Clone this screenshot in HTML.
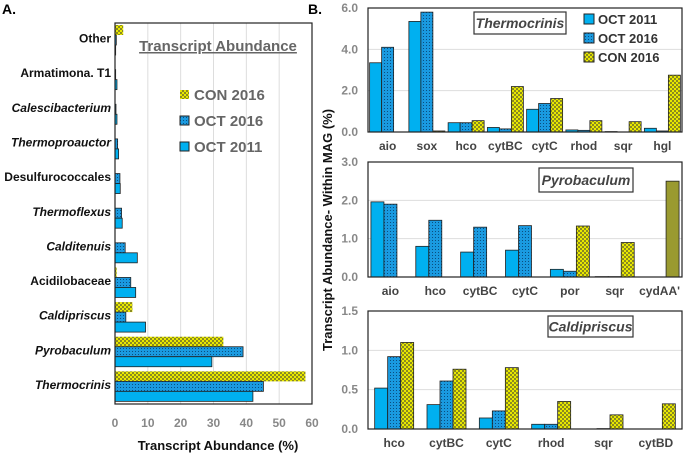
<!DOCTYPE html>
<html><head><meta charset="utf-8"><style>
body{margin:0;background:#fff;}
svg text{font-family:"Liberation Sans",sans-serif;font-weight:bold;}
</style></head><body>
<svg id="c" width="685" height="453" viewBox="0 0 685 453" xmlns="http://www.w3.org/2000/svg">
<defs>
<pattern id="pDot" width="3" height="3" patternUnits="userSpaceOnUse"><rect width="3" height="3" fill="#1a9ae0"/><rect width="1" height="1" fill="#0a4f80"/></pattern>
<pattern id="pChk" width="4" height="4" patternUnits="userSpaceOnUse"><rect width="4" height="4" fill="#e8e800"/><rect width="2" height="2" fill="#8a8a20"/><rect x="2" y="2" width="2" height="2" fill="#8a8a20"/></pattern>
</defs>
<text x="2" y="14" font-size="14">A.</text>
<text x="308" y="14" font-size="14">B.</text>
<g id="gA"></g><g id="gB"></g>
<text transform="translate(332,230) rotate(-90)" text-anchor="middle" font-size="13" fill="#111">Transcript Abundance- Within MAG (%)</text>
</svg>
<script>
const NS="http://www.w3.org/2000/svg";
const fills=["#00b0f0","url(#pDot)","url(#pChk)"];
function el(p,t,a){const e=document.createElementNS(NS,t);for(const k in a)e.setAttribute(k,a[k]);p.appendChild(e);return e;}
// Panel A data
const catsA=["Other","Armatimona. T1","Calescibacterium","Thermoproauctor","Desulfurococcales","Thermoflexus","Calditenuis","Acidilobaceae","Caldipriscus","Pyrobaculum","Thermocrinis"];
const italA=[false,false,true,true,false,true,true,false,true,true,true];
const aCON=[2.5,0,0,0,0,0,0,0.5,5.3,33,58];
const aOCT16=[0.4,0.2,0.3,0.8,1.5,2.0,3.1,4.8,3.3,39,45.2];
const aOCT11=[0.2,0.6,0.6,1.1,1.6,2.2,6.8,6.3,9.3,29.5,42];
const ticksA=[0,10,20,30,40,50,60];
// Panel B data
const cats1=["aio","sox","hco","cytBC","cytC","rhod","sqr","hgl"];
const t1o11=[3.35,5.35,0.45,0.22,1.1,0.1,0.02,0.18];
const t1o16=[4.1,5.8,0.45,0.15,1.38,0.08,0,0.05];
const t1con=[0,0.05,0.55,2.2,1.62,0.55,0.5,2.75];
const ticks1=[0,2,4,6];
const cats2=["aio","hco","cytBC","cytC","por","sqr","cydAA'"];
const t2o11=[1.96,0.8,0.65,0.7,0.2,0.01,0];
const t2o16=[1.9,1.48,1.3,1.34,0.15,0.01,0];
const t2con=[0,0,0,0,1.33,0.9,2.5];
const ticks2=[0,1,2,3];
const cats3=["hco","cytBC","cytC","rhod","sqr","cytBD"];
const t3o11=[0.52,0.31,0.14,0.06,0,0];
const t3o16=[0.92,0.61,0.23,0.06,0.005,0];
const t3con=[1.1,0.76,0.78,0.35,0.18,0.32];
const ticks3=[0,0.5,1.0,1.5];

// Panel A
(function(){
 const g=document.getElementById('gA');
 const x0=115,x1=312,y0=23,y1=404,xmax=60;
 const X=v=>x0+v/xmax*(x1-x0);
 const band=(y1-y0)/catsA.length;
 ticksA.forEach(t=>{
  if(t>0){const l=el(g,'line',{x1:X(t),x2:X(t),y1:y0,y2:y1,stroke:'#ddd'});}
  const tx=el(g,'text',{x:X(t),y:427,'text-anchor':'middle','font-size':12,fill:'#888'});tx.textContent=t;
  
 });
 const series=[aCON,aOCT16,aOCT11];const fo=[2,1,0];
 catsA.forEach((c,i)=>{
  const top=y0+i*band+2;
  series.forEach((s,j)=>{
   if(s[i]<=0)return;
   const r=el(g,'rect',{x:x0,y:top+j*10,width:X(s[i])-x0,height:10,fill:fills[fo[j]],stroke:j==0?'none':'#222','stroke-width':0.8});
   
  });
  const tx=el(g,'text',{x:111,y:y0+i*band+band*0.45+4,'text-anchor':'end','font-size':12,fill:'#111','font-style':italA[i]?'italic':'normal'});tx.textContent=c;
  
 });
 const f=el(g,'rect',{x:x0,y:y0,width:x1-x0,height:y1-y0,fill:'none',stroke:'#222','stroke-width':1.2});
 
 const tt=el(g,'text',{x:218,y:51,'text-anchor':'middle','font-size':15,fill:'#666','text-decoration':'underline'});tt.textContent='Transcript Abundance';
 
 const leg=[['CON 2016',2],['OCT 2016',1],['OCT 2011',0]];
 leg.forEach((l,k)=>{
  const y=99+k*26;
  const r=el(g,'rect',{x:180,y:y-9,width:9,height:9,fill:fills[l[1]],stroke:l[1]==2?'none':'#222'});
  
  const t=el(g,'text',{x:194,y:y+1,'font-size':15,fill:'#666'});t.textContent=l[0];
  
 });
 const xt=el(g,'text',{x:218,y:450,'text-anchor':'middle','font-size':13,fill:'#111'});xt.textContent='Transcript Abundance (%)';
 
})();

// Panel B
function panel(cats,o11,o16,con,ticks,ymax,y0,y1,bw,title,tbox,dec,name){
 const g=document.getElementById('gB');
 const x0=368,x1=682;
 const Y=v=>y1-v/ymax*(y1-y0);
 const band=(x1-x0)/cats.length;
 ticks.forEach(t=>{
  if(t>0){const l=el(g,'line',{x1:x0,x2:x1,y1:Y(t),y2:Y(t),stroke:'#ddd'});}
  const tx=el(g,'text',{x:358,y:Y(t)+4,'text-anchor':'end','font-size':12,fill:'#888'});tx.textContent=t.toFixed(1);
  
 });
 const series=[o11,o16,con];
 cats.forEach((c,i)=>{
  const cx=x0+(i+0.5)*band;
  series.forEach((s,j)=>{
   const v=s[i];if(v<=0)return;
   const fill=(name==='pyro'&&j==2&&i==cats.length-1)?'#9a9a30':fills[j];
   const r=el(g,'rect',{x:cx-1.5*bw+j*bw,y:Y(v),width:bw,height:y1-Y(v),fill:fill,stroke:'#222','stroke-width':0.8});
   
  });
  const tx=el(g,'text',{x:cx,y:y1+18,'text-anchor':'middle','font-size':12,fill:'#444'});tx.textContent=c;
  
 });
 const f=el(g,'rect',{x:x0,y:y0,width:x1-x0,height:y1-y0,fill:'none',stroke:'#222','stroke-width':1.2});
 
 const b=el(g,'rect',{x:tbox[0],y:tbox[1],width:tbox[2],height:tbox[3],fill:'#fff',stroke:'#333','stroke-width':1.2});
 
 const t=el(g,'text',{x:tbox[0]+tbox[2]/2,y:tbox[1]+tbox[3]/2+5,'text-anchor':'middle','font-size':14,'font-style':'italic',fill:'#444'});t.textContent=title;
 
}
panel(cats1,t1o11,t1o16,t1con,ticks1,6,8,132,12,'Thermocrinis',[474,12,92,22],1,'thermo');
panel(cats2,t2o11,t2o16,t2con,ticks2,3,162,277,13,'Pyrobaculum',[539,168,94,24],1,'pyro');
panel(cats3,t3o11,t3o16,t3con,ticks3,1.5,311,429,13,'Caldipriscus',[548,316,85,21],1,'caldi');
(function(){
 const g=document.getElementById('gB');
 const leg=[['OCT 2011',0],['OCT 2016',1],['CON 2016',2]];
 leg.forEach((l,k)=>{
  const y=23+k*19;
  const r=el(g,'rect',{x:584,y:y-9,width:10,height:10,fill:fills[l[1]],stroke:'#222'});
  
  const t=el(g,'text',{x:598,y:y+1,'font-size':13,fill:'#333'});t.textContent=l[0];
  
 });
})();
</script>
</body></html>
